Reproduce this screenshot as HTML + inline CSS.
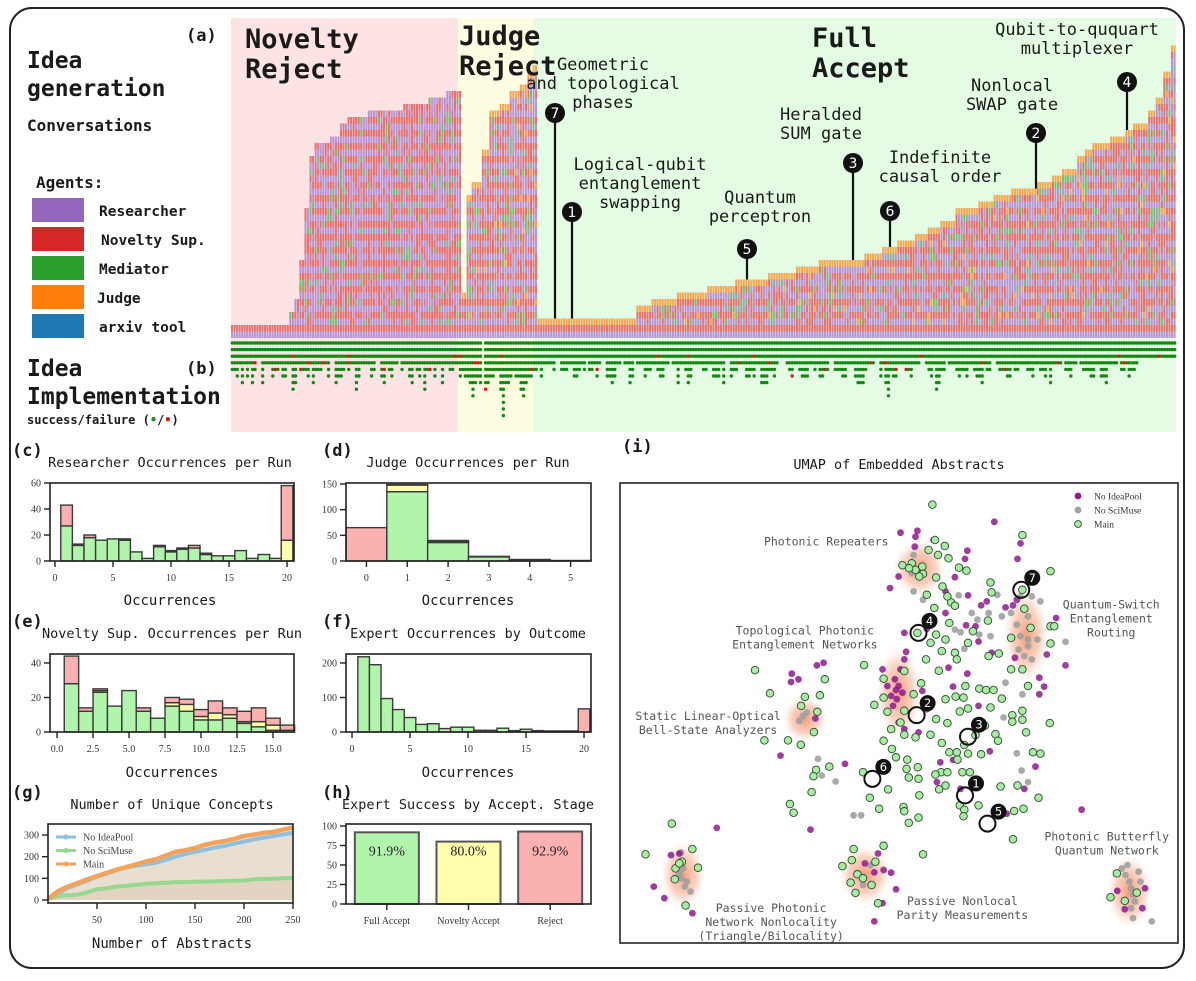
<!DOCTYPE html>
<html><head><meta charset="utf-8"><style>
html,body{margin:0;padding:0;background:#fff;}
svg{display:block;}
.mono{font-family:"DejaVu Sans Mono","Liberation Mono",monospace;}
.serif{font-family:"Liberation Serif","DejaVu Serif",serif;}
</style></head><body>
<svg id="fig" width="1196" height="981" viewBox="0 0 1196 981" xmlns="http://www.w3.org/2000/svg">
<defs>
<radialGradient id="glow"><stop offset="0" stop-color="#f07a50" stop-opacity="0.75"/><stop offset="0.6" stop-color="#f59a75" stop-opacity="0.45"/><stop offset="1" stop-color="#fbd0c0" stop-opacity="0"/></radialGradient>
</defs>
<rect x="10" y="8" width="1174" height="960" rx="22" fill="#fff" stroke="#222" stroke-width="2"/>
<g id="panelA">
<rect x="231" y="18" width="227" height="414" fill="#fde3e3"/>
<rect x="458" y="18" width="75" height="414" fill="#fefde2"/>
<rect x="533" y="18" width="643" height="414" fill="#e3fce3"/>
<g id="bars"></g><g id="dots"></g><g id="annots"></g>
<g class="mono" font-weight="bold" font-size="27" fill="#1a1a1a">
<text x="245" y="48">Novelty</text><text x="245" y="78">Reject</text>
<text x="459" y="45">Judge</text><text x="459" y="75">Reject</text>
<text x="812" y="47">Full</text><text x="812" y="77">Accept</text>
</g>
</g>
<g id="leftLabels" class="mono" fill="#1a1a1a" font-weight="bold">
<text x="186" y="41" font-size="17">(a)</text>
<text x="27" y="68" font-size="23">Idea</text>
<text x="27" y="96" font-size="23">generation</text>
<text x="27" y="131" font-size="16">Conversations</text>
<text x="36" y="188" font-size="16">Agents:</text>
<g id="agentLegend"></g>
<text x="186" y="374" font-size="17">(b)</text>
<text x="27" y="376" font-size="23">Idea</text>
<text x="27" y="404" font-size="23">Implementation</text>
<text x="27" y="424" font-size="12">success/failure (<tspan fill="#1a8a1a">•</tspan>/<tspan fill="#e01010">•</tspan>)</text>
</g>
<g id="hists"></g>
<g id="umap"></g>
</svg>
<script>
const NS="http://www.w3.org/2000/svg";
function el(tag,attrs,parent,text){const e=document.createElementNS(NS,tag);for(const k in attrs)e.setAttribute(k,attrs[k]);if(text!==undefined)e.textContent=text;if(parent)parent.appendChild(e);return e;}

/* ---------- Panel (a) data ---------- */
// run-length [numColumns, heightInCells]
const heightRuns=[[23,2],[2,4],[2,6],[2,12],[2,20],[2,28],[6,30],[4,31],[3,33],[8,34],[14,35],[10,36],[7,37],[6,38],
[2,7],[2,22],[4,24],[3,29],[4,35],[4,36],[4,38],[3,39],[2,41],[2,42],
[39,3],[6,5],[10,6],[12,7],[11,8],[13,9],[11,10],[9,11],[18,12],[7,13],[6,14],[7,15],[5,16],[5,17],[6,18],[9,20],[6,21],[7,22],[10,23],[6,24],[4,25],[6,26],[3,28],[3,29],[7,30],[6,31],[3,32],[6,33],[3,35],[3,37],[3,41],[2,45]];
const regionSizes=[91,30]; // novelty, judge; rest full accept
// implementation attempts per column (hex digits)
const dotCounts=("5564746475337444655466448745556475554463376654544864444653367456443544674564855464474455446"+
"5667976708766558c776566897665546"+
"4444533555446654535546433667644344763444655445664434474457644445544666473365544466564477755643334564456664454665533555664446777544433647956644455644433456487553444565564456674553345556645544455644556474444355644345556644667444435546554")
.split("").map(c=>parseInt(c,16));
// failures: [column,row] red dots
const failDots=[[0,5],[9,3],[17,4],[24,2],[27,4],[30,3],[36,3],[46,2],[46,3],[48,4],[57,5],[60,4],[62,5],[66,4],[72,6],[78,4],[82,5],[88,2],[90,2],[96,3],[97,3],[100,7],[101,8],[101,9],[102,10],[106,2],[110,6],[111,7],[118,4],[133,5],[140,3],[144,4],[160,4],[168,2],[172,4],[180,2],[185,4],[196,6],[200,3],[206,2],[212,3],[221,5],[222,6],[222,7],[234,4],[239,5],[246,6],[252,3],[258,3],[262,4],[266,4],[272,2],[281,5],[290,6],[296,3],[305,4],[316,7],[318,5],[326,3],[333,4],[340,6],[350,2],[352,3],[361,4],[366,2],[370,3]];
const agentNames=["Researcher","Novelty Sup.","Mediator","Judge","arxiv tool"];
const agentColors=["#9467bd","#d62728","#2ca02c","#ff7f0e","#1f77b4"];
const cellColors=["#b897d4","#e57370","#74c274","#f4aa55","#7aa9d6"];
const annotNums=[7,1,5,3,6,2,4];
const annotX=[555,572,747,853,890,1036,1127];
const annotBadgeY=[113,212,249,163,211,133,82];
const annotLabels=[["Geometric","and topological","phases"],["Logical-qubit","entanglement","swapping"],["Quantum","perceptron"],["Heralded","SUM gate"],["Indefinite","causal order"],["Nonlocal","SWAP gate"],["Qubit-to-ququart","multiplexer"]];
const annotLabelX=[603,640,760,821,940,1012,1077];
const annotLabelY=[70,170,203,120,163,91,35];

(function(){
  const heights=[];heightRuns.forEach(([n,h])=>{for(let i=0;i<n;i++)heights.push(h);});
  const N=heights.length,x0=231,x1=1176,colW=(x1-x0)/N,base=338,cellH=6.5;
  const colX=i=>x0+i*colW, cellY=k=>base-(k+1)*cellH;
  const g=document.getElementById("bars");
  for(let i=0;i<N;i++){
    const region=i<regionSizes[0]?0:(i<regionSizes[0]+regionSizes[1]?1:2);
    for(let k=0;k<heights[i];k++){
      const hsh=((i*73856093)^(k*19349663))>>>0;
      let c;
      if(k===0)c=0;else if(k===1)c=1;
      else{const r=hsh%100; c=(k%2===0)?0:1; if(r<18)c=1-c; if(r>91)c=2; else if(r>88&&region>0)c=3;}
      if(k===heights[i]-1&&region>0)c=3;
      const r=el("rect",{x:colX(i).toFixed(2),y:cellY(k).toFixed(2),width:(colW-0.45).toFixed(2),height:cellH,fill:cellColors[c]},g);
      
      
    }
  }
  const dg=document.getElementById("dots");
  const fails=new Set(failDots.map(d=>d[0]+"_"+d[1]));
  for(let i=0;i<N;i++){
    const n=dotCounts[i]!==undefined&&!isNaN(dotCounts[i])?dotCounts[i]:3;
    for(let r=0;r<n;r++){
      const red=fails.has(i+"_"+r);
      const c=el("circle",{cx:(colX(i)+colW/2).toFixed(2),cy:(343+r*6.6).toFixed(2),r:1.7,fill:red?"#e81010":"#138a13"},dg);
      
      
    }
  }
  const ag=document.getElementById("annots");
  annotNums.forEach((num,j)=>{
    const ci=Math.min(N-1,Math.max(0,Math.floor((annotX[j]-x0)/colW)));
    const topY=base-heights[ci]*cellH;
    const ln=el("line",{x1:annotX[j],x2:annotX[j],y1:annotBadgeY[j],y2:topY,stroke:"#111","stroke-width":2.2},ag);
    
    
    const b=el("circle",{cx:annotX[j],cy:annotBadgeY[j],r:10,fill:"#111"},ag);
    
    
    const bt=el("text",{x:annotX[j],y:annotBadgeY[j]+5,"text-anchor":"middle","font-size":14,fill:"#fff","font-family":"DejaVu Sans, sans-serif"},ag,String(num));
    
    
    annotLabels[j].forEach((s,li)=>{
      const t=el("text",{x:annotLabelX[j],y:annotLabelY[j]+li*19,"text-anchor":"middle","font-size":17,fill:"#1a1a1a",class:"mono"},ag,s);
      
      
    });
  });
  const lg=document.getElementById("agentLegend");
  agentNames.forEach((nm,i)=>{
    const r=el("rect",{x:32,y:198+i*29,width:52,height:24,fill:agentColors[i]},lg);
    
    
    const t=el("text",{x:i===1?101:(i===3?97:99),y:216+i*29,"font-size":14.5,"font-weight":"bold",class:"mono",fill:"#1a1a1a"},lg,nm);
    
    
  });
})();

/* ---------- Histograms (c)-(f) ---------- */
const cCenters=[1,2,3,4,5,6,7,8,9,10,11,12,13,14,15,16,17,18,19,20];
const cGreen=[27,12,18,16,17,16,7,2,11,7,9,10,5,4,4,8,2,5,2,0];
const cYellow=[0,0,0,0,0,0,0,0,0,0,0,0,0,0,0,0,0,0,0,16];
const cRed=[16,1,2,0,0,1,0,0,1,1,1,2,1,0,0,0,0,0,0,42];
const dCenters=[0,1,2,3,4,5];
const dGreen=[0,135,36,8,3,1];
const dYellow=[0,13,2,0,0,0];
const dRed=[65,1,2,1,0,0];
const eCenters=[1,2,3,4,5,6,7,8,9,10,11,12,13,14,15,16];
const eGreen=[28,12,23,15,24,12,8,15,12,7,7,8,5,3,1,0];
const eYellow=[0,0,1,0,0,0,0,2,4,2,4,2,1,3,3,1];
const eRed=[16,2,1,0,0,2,0,3,3,4,7,4,6,8,4,3];
const fCenters=[1,2,3,4,5,6,7,8,9,10,11,12,13,14,15,16,17,18,19,20];
const fGreen=[218,195,97,65,42,22,24,10,14,14,5,5,11,4,8,4,3,3,3,0];
const fYellow=[0,0,0,0,0,0,0,0,0,0,0,0,0,0,0,0,0,0,0,0];
const fRed=[0,0,0,0,0,0,0,0,0,0,0,0,0,0,0,0,0,0,0,67];
const cXTicks=[0,5,10,15,20],cYTicks=[0,20,40,60];
const dXTicks=[0,1,2,3,4,5],dYTicks=[0,50,100,150];
const eXTicks=[0,2.5,5,7.5,10,12.5,15],eYTicks=[0,20,40];
const fXTicks=[0,5,10,15,20],fYTicks=[0,100,200];
/* ---------- (g) ---------- */
const gX=[0,10,20,30,40,50,60,70,80,90,100,110,120,130,140,150,160,170,180,190,200,210,220,230,240,250];
const gMain=[5,40,62,78,95,110,125,140,152,165,178,188,205,222,230,240,255,265,272,282,295,302,310,315,325,335];
const gNoIdeaPool=[5,30,55,72,90,108,122,138,150,158,165,172,185,200,212,222,232,242,250,260,270,280,288,295,303,310];
const gNoSciMuse=[5,18,22,25,35,50,55,62,66,70,75,78,80,82,83,84,85,86,88,89,90,95,97,99,100,102];
const gXTicks=[50,100,150,200,250],gYTicks=[0,100,200,300];
/* ---------- (h) ---------- */
const hCats=["Full Accept","Novelty Accept","Reject"];
const hVals=[91.9,80.0,92.9];
const hYTicks=[0,25,50,75,100];

const H=document.getElementById("hists");
function axes(box,xs,ys,xTicks,yTicks,xFmt,name){
  const g=el("g",{},H);
  const fr=el("rect",{x:box.x,y:box.y,width:box.w,height:box.h,fill:"none",stroke:"#222","stroke-width":1.6},g);
  
  xTicks.forEach(v=>{const X=xs(v);
    const l=el("line",{x1:X,x2:X,y1:box.y+box.h,y2:box.y+box.h+6,stroke:"#222","stroke-width":1.4},g);
    const t=el("text",{x:X,y:box.y+box.h+20,"text-anchor":"middle","font-size":10,fill:"#333",class:"serif"},g,xFmt(v));});
  yTicks.forEach(v=>{const Y=ys(v);
    const l=el("line",{x1:box.x-6,x2:box.x,y1:Y,y2:Y,stroke:"#222","stroke-width":1.4},g);
    const t=el("text",{x:box.x-9,y:Y+3.5,"text-anchor":"end","font-size":10,fill:"#333",class:"serif"},g,String(v));});
}
function scale(d0,d1,r0,r1){return v=>r0+(v-d0)/(d1-d0)*(r1-r0);}
function texts(letter,lx,ly,title,tx,ty,xlab,xly){
  const a=el("text",{x:lx,y:ly,"font-size":17,"font-weight":"bold",class:"mono",fill:"#1a1a1a"},H,letter);
  const b=el("text",{x:tx,y:ty,"font-size":13.5,"text-anchor":"middle",class:"mono",fill:"#1a1a1a"},H,title);
  if(xlab){const c=el("text",{x:tx,y:xly,"font-size":14,"text-anchor":"middle",class:"mono",fill:"#1a1a1a"},H,xlab);}
}
function hist(name,box,xd,yd,centers,green,yellow,red,xTicks,yTicks,xFmt){
  const xs=scale(xd[0],xd[1],box.x,box.x+box.w), ys=scale(yd[0],yd[1],box.y+box.h,box.y);
  const g=el("g",{},H);
  centers.forEach((c,i)=>{
    let acc=0;
    [[green[i],"#b0f5ab"],[yellow[i],"#fefdac"],[red[i],"#fcb1b1"]].forEach(([v,col],si)=>{
      if(v<=0)return;
      const y0=ys(acc),y1=ys(acc+v);
      const r=el("rect",{x:xs(c-0.5),y:y1,width:xs(c+0.5)-xs(c-0.5),height:y0-y1,fill:col,stroke:"#3a3a3a","stroke-width":1.4},g);
      
      
      acc+=v;
    });
  });
  axes(box,xs,ys,xTicks,yTicks,xFmt,name);
}
hist("researcher-hist",{x:50,y:483,w:244,h:78},[-0.43,20.6],[0,60],cCenters,cGreen,cYellow,cRed,cXTicks,cYTicks,String);
hist("judge-hist",{x:346,y:483,w:245,h:78},[-0.5,5.5],[0,152],dCenters,dGreen,dYellow,dRed,dXTicks,dYTicks,String);
hist("novelty-sup-hist",{x:50,y:654,w:244,h:78},[-0.49,16.46],[0,45.2],eCenters,eGreen,eYellow,eRed,eXTicks,eYTicks,v=>v.toFixed(1));
hist("expert-hist",{x:346,y:654,w:245,h:78},[-0.52,20.6],[0,226],fCenters,fGreen,fYellow,fRed,fXTicks,fYTicks,String);
texts("(c)",12,456,"Researcher Occurrences per Run",170,467,"Occurrences",605);
texts("(d)",322,456,"Judge Occurrences per Run",468,467,"Occurrences",605);
texts("(e)",12,627,"Novelty Sup. Occurrences per Run",172,638,"Occurrences",777);
texts("(f)",322,627,"Expert Occurrences by Outcome",468,638,"Occurrences",777);
texts("(g)",12,798,"Number of Unique Concepts",172,809,"Number of Abstracts",948);
texts("(h)",322,798,"Expert Success by Accept. Stage",468,809,null,0);

// (g) line chart
(function(){
  const box={x:48,y:824,w:245,h:79};
  const xs=scale(0,250,box.x,box.x+box.w), ys=scale(0,351,box.y+box.h-3,box.y);
  const g=el("g",{},H);
  const series=[[gMain,"#f5a35a","main"],[gNoIdeaPool,"#8ec0e0","no-ideapool"],[gNoSciMuse,"#96d98e","no-scimuse"]];
  series.forEach(([arr,col,nm])=>{
    let d="M"+xs(gX[0])+","+ys(0);gX.forEach((x,i)=>d+=" L"+xs(x).toFixed(1)+","+ys(arr[i]).toFixed(1));d+=" L"+xs(gX[gX.length-1])+","+ys(0)+"Z";
    const a=el("path",{d:d,fill:"#c9ad88","fill-opacity":0.22,stroke:"none"},g);
  });
  [series[1],series[2],series[0]].forEach(([arr,col,nm])=>{
    const d=gX.map((x,i)=>(i?"L":"M")+xs(x).toFixed(1)+","+ys(arr[i]).toFixed(1)).join(" ");
    const p=el("path",{d:d,fill:"none",stroke:col,"stroke-width":nm==="main"?4.5:4,"stroke-linejoin":"round"},g);
    
  });
  axes(box,xs,ys,gXTicks,gYTicks,String,"concepts-chart");
  const leg=[["No IdeaPool","#8ec0e0"],["No SciMuse","#96d98e"],["Main","#f5a35a"]];
  leg.forEach(([nm,col],i)=>{
    const y=837+i*13.5;
    const l=el("line",{x1:56,x2:76,y1:y,y2:y,stroke:col,"stroke-width":3},g);
    const c=el("circle",{cx:66,cy:y,r:2.5,fill:col},g);
    const t=el("text",{x:83,y:y+3.5,"font-size":10,fill:"#444",class:"serif"},g,nm);
  });
})();
// (h) bar chart
(function(){
  const box={x:346,y:824,w:245,h:80};
  const ys=scale(0,100,box.y+box.h,box.y+2);
  const band=box.w/hCats.length;
  const cols=["#b0f5ab","#fefdac","#fcb1b1"];
  const g=el("g",{},H);
  hCats.forEach((c,i)=>{
    const cx=box.x+band*(i+0.5);
    const r=el("rect",{x:cx-32,y:ys(hVals[i]),width:64,height:ys(0)-ys(hVals[i]),fill:cols[i],stroke:"#555","stroke-width":2},g);
    
    const t=el("text",{x:cx,y:ys(62),"text-anchor":"middle","font-size":14,fill:"#222",class:"serif"},g,hVals[i].toFixed(1)+"%");
    
  });
  const xs=v=>box.x+band*(v+0.5);
  axes(box,xs,ys,[0,1,2],hYTicks,v=>hCats[v],"success-chart");
})();

/* ---------- (i) UMAP ---------- */
const mainPts=[[845,193],[1085,285],[852,300],[878,318],[888,355],[860,345],[835,330],[765,376],[790,370],[818,380],[800,390],[820,402],[783,385],[855,413],[810,410],[872,440],[830,465],[916,383],[936,392],[1000,428],[1160,394],[1085,450],[1003,458],[895,488],[850,505],[905,498],[885,470],[993,543],[1090,507],[1107,565],[1055,595],[890,550],[855,585],[880,600],[840,610],[870,635],[905,640],[940,610],[953,575],[1160,560],[1170,560],[1160,612],[1055,690],[1085,690],[1100,740],[995,650],[1022,642],[910,660],[862,694],[828,660],[805,580],[663,677],[372,692],[558,720],[412,762],[505,773],[545,768],[495,800],[538,818],[529,879],[460,904],[397,904],[494,917],[715,718],[770,695],[715,775],[725,818],[770,815],[760,850],[690,797],[815,732],[795,765],[735,870],[770,887],[800,895],[840,887],[855,840],[885,852],[880,780],[907,772],[928,775],[933,740],[970,748],[988,752],[1008,752],[1030,778],[1000,805],[940,808],[918,817],[985,860],[1013,885],[1020,905],[960,888],[870,912],[890,940],[910,940],[930,918],[940,944],[975,946],[1058,828],[1058,848],[1085,815],[1085,842],[1095,880],[1158,852],[1113,940],[1133,944],[1072,1040],[1027,1043],[1128,1077],[1063,1117],[1088,1110],[1060,1202],[918,1100],[930,1113],[928,1133],[968,1100],[880,1040],[863,1052],[868,1000],[885,1000],[925,1000],[912,962],[945,1000],[853,1007],[810,1070],[782,1016],[776,990],[748,955],[778,962],[806,985],[737,930],[715,905],[808,1020],[768,1105],[770,1118],[808,1137],[782,1153],[703,1110],[727,1052],[678,1077],[660,1000],[570,983],[535,993],[528,1012],[523,1060],[465,1096],[475,1122],[150,1155],[80,1248],[160,1290],[177,1270],[205,1232],[220,1288],[158,1323],[187,1402],[170,1275],[635,1232],[715,1222],[630,1265],[605,1283],[693,1270],[645,1308],[627,1333],[683,1340],[640,1364],[700,1395],[660,1320],[820,1248],[1337,1305],[1390,1363],[1320,1377],[1358,1388]];
const noIdeaPoolPts=[[1010,245],[760,278],[805,272],[800,290],[798,320],[848,300],[938,332],[932,357],[732,445],[755,410],[905,412],[880,455],[940,467],[990,485],[975,497],[1040,503],[1060,497],[1080,310],[1072,357],[1070,480],[1175,535],[1150,645],[1200,678],[1130,715],[1143,742],[1130,765],[1065,655],[1003,640],[935,557],[960,560],[968,606],[888,685],[938,703],[900,742],[968,800],[775,637],[770,660],[760,690],[745,720],[748,752],[750,780],[712,690],[725,740],[740,800],[755,850],[770,870],[818,755],[830,810],[808,880],[555,670],[537,678],[470,703],[488,720],[468,728],[533,838],[440,950],[612,975],[866,970],[900,963],[998,937],[1120,983],[857,1030],[920,1050],[1090,1050],[1043,1125],[1243,1113],[520,1173],[270,1168],[102,1345],[130,1380],[148,1250],[170,1245],[205,1425],[700,1245],[665,1275],[715,1295],[735,1303],[690,1302],[748,1353],[712,1395],[690,1450],[1338,1358],[1358,1413],[1405,1410],[1412,1350],[830,568],[880,520],[770,580],[755,740],[765,760],[735,770]];
const noSciMusePts=[[915,467],[1018,465],[950,520],[995,520],[965,540],[1030,530],[1055,520],[1080,470],[1110,470],[1133,485],[1070,555],[1100,530],[1080,590],[1100,620],[1090,650],[1110,660],[1100,600],[1125,600],[1075,630],[1200,607],[1000,590],[970,585],[930,628],[920,578],[905,570],[1040,730],[1085,765],[1035,835],[1070,943],[1083,995],[1100,1030],[795,455],[820,480],[795,345],[790,400],[500,830],[490,845],[510,820],[540,960],[550,1010],[587,1028],[635,1130],[655,1130],[180,1290],[175,1320],[185,1345],[200,1360],[190,1330],[170,1305],[175,1242],[1350,1290],[1360,1310],[1370,1330],[1375,1350],[1380,1370],[1385,1390],[1375,1410],[1380,1440],[1365,1280],[1395,1300],[1400,1330],[1430,1450],[650,1310],[660,1340],[680,1280]];
const clusterNames=[["Photonic Repeaters"],["Quantum-Switch","Entanglement","Routing"],["Topological Photonic","Entanglement Networks"],["Static Linear-Optical","Bell-State Analyzers"],["Photonic Butterfly","Quantum Network"],["Passive Photonic","Network Nonlocality","(Triangle/Bilocality)"],["Passive Nonlocal","Parity Measurements"]];
const clusterLabelPos=[[562,305],[1322,495],[505,573],[247,831],[1310,1194],[415,1410],[925,1389]];
const clusterCenters=[[810,385],[1095,590],[755,760],[505,840],[180,1310],[665,1310],[1370,1360]];
const clusterSpread=[[70,85],[60,140],[60,140],[60,70],[60,100],[70,90],[60,110]];
const highlightNums=[7,4,2,3,6,1,5];
const highlightPts=[[1082,450],[808,580],[803,828],[940,893],[685,1020],[932,1070],[992,1155]];

(function(){
  const U=document.getElementById("umap");
  const box={x:620,y:483,w:558,h:460};
  const xs=scale(12,1500,box.x,box.x+box.w), ys=scale(128,1515,box.y,box.y+box.h);
  const sx=box.w/1488, sy=box.h/1387;
  const a=el("text",{x:622,y:452,"font-size":17,"font-weight":"bold",class:"mono",fill:"#1a1a1a"},U,"(i)");
  const t=el("text",{x:899,y:469,"font-size":13.5,"text-anchor":"middle",class:"mono",fill:"#1a1a1a"},U,"UMAP of Embedded Abstracts");
  const fr=el("rect",{x:box.x,y:box.y,width:box.w,height:box.h,fill:"#fff",stroke:"#222","stroke-width":1.6},U);
  clusterCenters.forEach((c,i)=>{
    const e=el("ellipse",{cx:xs(c[0]),cy:ys(c[1]),rx:clusterSpread[i][0]*sx,ry:clusterSpread[i][1]*sy,fill:"url(#glow)"},U);
    
  });
  noSciMusePts.forEach(p=>{const c=el("circle",{cx:xs(p[0]).toFixed(1),cy:ys(p[1]).toFixed(1),r:3.4,fill:"#a0a0a0","fill-opacity":0.9},U);});
  noIdeaPoolPts.forEach(p=>{const c=el("circle",{cx:xs(p[0]).toFixed(1),cy:ys(p[1]).toFixed(1),r:3.4,fill:"#8e1a8e","fill-opacity":0.85},U);});
  mainPts.forEach(p=>{const c=el("circle",{cx:xs(p[0]).toFixed(1),cy:ys(p[1]).toFixed(1),r:3.8,fill:"#a8eba3",stroke:"#2d4a2d","stroke-width":0.9},U);});
  highlightPts.forEach((p,i)=>{
    const X=xs(p[0]),Y=ys(p[1]);
    const r=el("circle",{cx:X,cy:Y,r:8,fill:"none",stroke:"#111","stroke-width":2},U);
    const b=el("circle",{cx:X+11,cy:Y-12,r:8,fill:"#111"},U);
    const bt=el("text",{x:X+11,y:Y-8,"text-anchor":"middle","font-size":11.5,fill:"#fff","font-family":"DejaVu Sans, sans-serif"},U,String(highlightNums[i]));
  });
  clusterNames.forEach((lines,i)=>{
    lines.forEach((s,li)=>{
      const tt=el("text",{x:xs(clusterLabelPos[i][0]),y:ys(clusterLabelPos[i][1])+4+li*14,"text-anchor":"middle","font-size":11.5,fill:"#555",class:"mono"},U,s);
      
    });
  });
  const leg=[["No IdeaPool","#8e1a8e","none"],["No SciMuse","#a0a0a0","none"],["Main","#a8eba3","#2d4a2d"]];
  leg.forEach(([nm,col,st],i)=>{
    const y=496+i*14;
    const c=el("circle",{cx:1078,cy:y,r:3.4,fill:col,stroke:st,"stroke-width":0.9},U);
    const tt=el("text",{x:1094,y:y+3.5,"font-size":9.5,fill:"#333",class:"serif"},U,nm);
  });
})();
</script>
</body></html>
